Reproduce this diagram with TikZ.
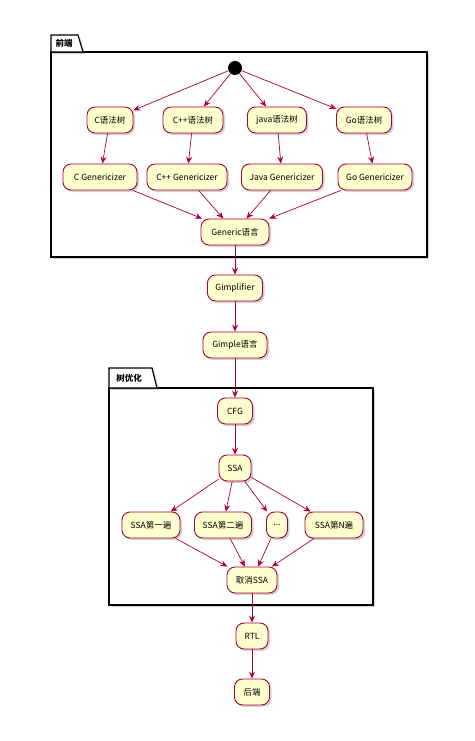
\documentclass[tikz,border=0pt]{standalone}
\usepackage{fontspec}
\setmainfont{Noto Sans CJK SC}
\usetikzlibrary{arrows.meta,shadows}
\definecolor{umlred}{HTML}{A80036}
\definecolor{umlfill}{HTML}{FEFECE}
\tikzstyle{activity}=[draw=umlred,fill=umlfill,line width=0.9pt,rounded corners=8pt,minimum height=26pt,inner xsep=4pt,font=\fontsize{8.5}{10}\selectfont,drop shadow={opacity=0.35,shadow xshift=2pt,shadow yshift=-2pt}]
\tikzstyle{flow}=[draw=umlred,line width=0.7pt,-{Stealth[length=7pt,width=6pt,inset=2.5pt]}]
\tikzstyle{package}=[draw=black,line width=1.2pt,fill=white,drop shadow={opacity=0.35,shadow xshift=2pt,shadow yshift=-2pt}]
\tikzstyle{pkglabel}=[font=\fontsize{8.5}{10}\selectfont\bfseries,inner sep=0pt]

\begin{document}
\begin{tikzpicture}[x=1pt,y=-1pt]
	\useasboundingbox (0,0) rectangle (474,741);
	% packages
	\draw[package] (51,52) rectangle (427,257);
	\draw[package] (51,52) -- (51,35) -- (78,35) -- (83,52) -- cycle;
	\node[pkglabel] (frontTab) at (64,43) {前端};
	\draw[package] (109,388) rectangle (373,605);
	\draw[package] (109,388) -- (109,368) -- (152,368) -- (157,388) -- cycle;
	\node[pkglabel] (optTab) at (129,378) {树优化};
	% start
	\node[circle,fill=black,minimum size=14pt,inner sep=0pt] (start) at (235,68) {};
	% syntax trees
	\node[activity,minimum width=46] (cTree) at (110,120) {C语法树};
	\node[activity,minimum width=60] (cppTree) at (193,120) {C++语法树};
	\node[activity,minimum width=59] (javaTree) at (277,120) {java语法树};
	\node[activity,minimum width=55] (goTree) at (364,120) {Go语法树};
	% genericizers
	\node[activity,minimum width=74] (cGen) at (100,177) {C Genericizer};
	\node[activity,minimum width=80] (cppGen) at (187,177) {C++ Genericizer};
	\node[activity,minimum width=81] (javaGen) at (282,177) {Java Genericizer};
	\node[activity,minimum width=74] (goGen) at (375,177) {Go Genericizer};
	\node[activity,minimum width=68] (generic) at (235,232) {Generic语言};
	% middle
	\node[activity,minimum width=55] (gimplifier) at (235,288) {Gimplifier};
	\node[activity,minimum width=64] (gimple) at (235,345) {Gimple语言};
	\node[activity,minimum width=35] (cfg) at (235,411) {CFG};
	\node[activity,minimum width=32] (ssa) at (235,468) {SSA};
	\node[activity,minimum width=58] (pass1) at (151,525) {SSA第一遍};
	\node[activity,minimum width=57] (pass2) at (223,525) {SSA第二遍};
	\node[activity,minimum width=21,inner xsep=2pt] (passDots) at (277,525) {...};
	\node[activity,minimum width=58] (passN) at (334,525) {SSA第N遍};
	\node[activity,minimum width=50] (unSSA) at (252,580) {取消SSA};
	% back end
	\node[activity,minimum width=32] (rtl) at (252,636) {RTL};
	\node[activity,minimum width=35] (backEnd) at (252,692) {后端};
	% connectors
	\foreach \t in {cTree,cppTree,javaTree,goTree}
		\draw[flow] (start) -- (\t);
	\draw[flow] (cTree) -- (cGen);
	\draw[flow] (cppTree) -- (cppGen);
	\draw[flow] (javaTree) -- (javaGen);
	\draw[flow] (goTree) -- (goGen);
	\foreach \g in {cGen,cppGen,javaGen,goGen}
		\draw[flow] (\g) -- (generic);
	\draw[flow] (generic) -- (gimplifier);
	\draw[flow] (gimplifier) -- (gimple);
	\draw[flow] (gimple) -- (cfg);
	\draw[flow] (cfg) -- (ssa);
	\foreach \p in {pass1,pass2,passDots,passN} {
		\draw[flow] (ssa) -- (\p);
		\draw[flow] (\p) -- (unSSA);
	}
	\draw[flow] (unSSA) -- (rtl);
	\draw[flow] (rtl) -- (backEnd);
\end{tikzpicture}
\end{document}
